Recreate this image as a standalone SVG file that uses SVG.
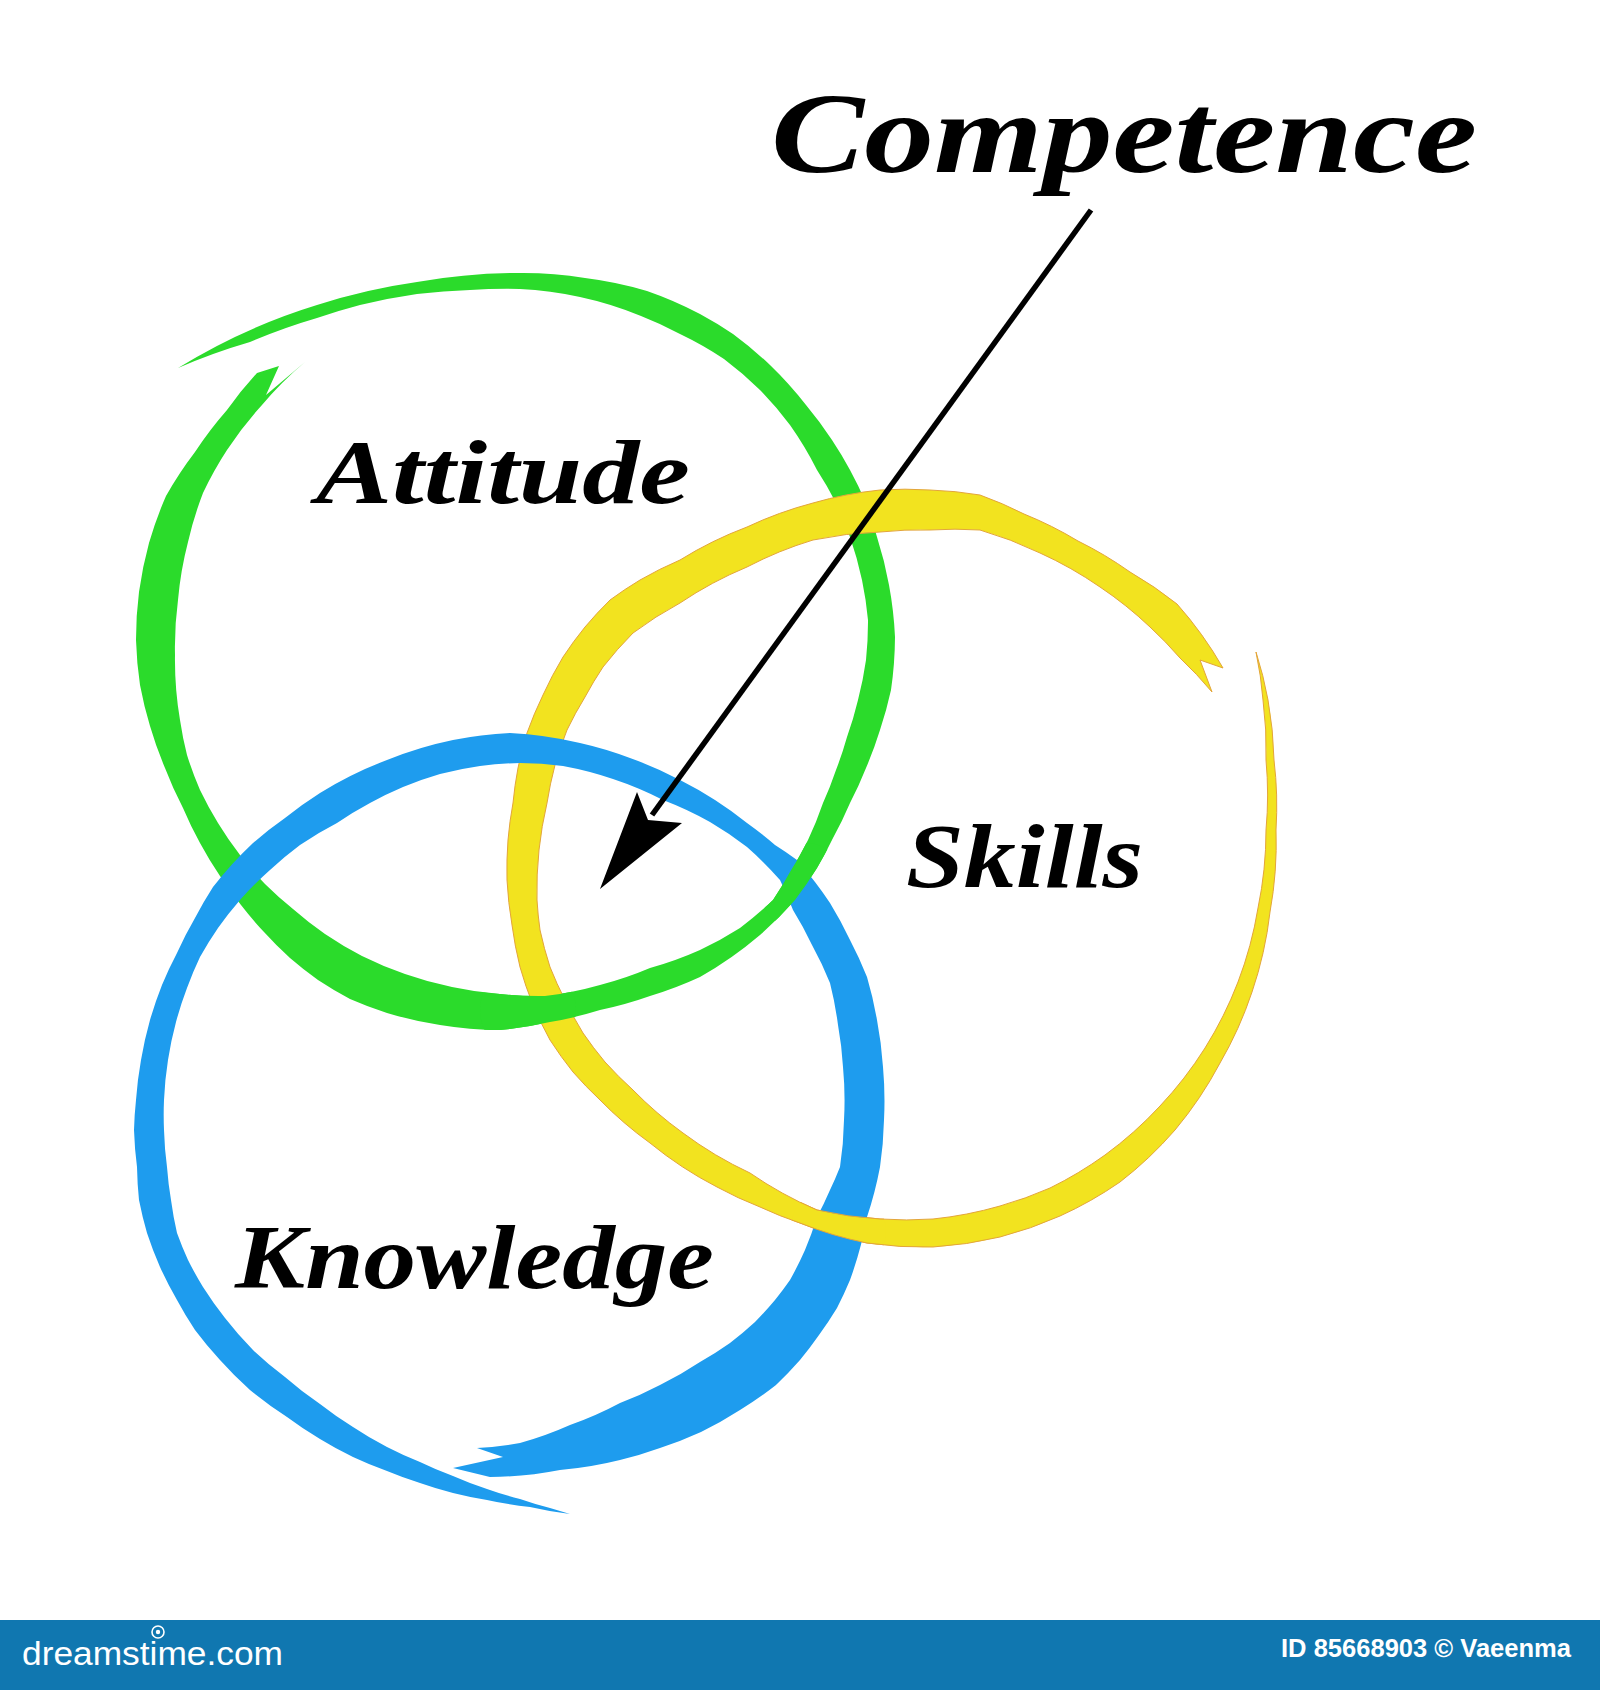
<svg xmlns="http://www.w3.org/2000/svg" xmlns:xlink="http://www.w3.org/1999/xlink" width="1600" height="1690" viewBox="0 0 1600 1690">
<style>
.ring-g{fill:#2BDB2B}
.ring-y{fill:#F2E31F;stroke:#E3A53A;stroke-width:1}
.ring-b{fill:#1E9CEE}
.label{font-family:"Liberation Serif","DejaVu Serif",serif;font-style:italic;font-weight:bold;fill:#000}
.foot{font-family:"Liberation Sans","DejaVu Sans",sans-serif;fill:#fff}
.conn{stroke:#000;stroke-width:5.5;fill:none}
</style>
<defs>
<clipPath id="cA"><circle cx="528" cy="1010" r="48"/></clipPath>
<clipPath id="cB"><circle cx="805" cy="888" r="45"/></clipPath>
<clipPath id="cC"><circle cx="838" cy="1232" r="48"/></clipPath>
</defs>
<rect width="1600" height="1690" fill="#fff"/>

<g id="attitude">
<path id="ring-green" class="ring-g" d="M178,368 A600 600 0 0 1 317,305 A600 600 0 0 1 417,282 A600 600 0 0 1 517,273
A380 380 0 0 1 585,278 A380 380 0 0 1 647,291 A380 380 0 0 1 700,314 A380 380 0 0 1 733,334 A380 380 0 0 1 770,365 A380 380 0 0 1 806,405 A380 380 0 0 1 832,440 A380 380 0 0 1 850,470 A380 380 0 0 1 866,503 A380 380 0 0 1 877,537 A380 380 0 0 1 889,585 A380 380 0 0 1 895,637 A380 380 0 0 1 891,690 A380 380 0 0 1 880,730 A380 380 0 0 1 866,768 A380 380 0 0 1 850,803 A380 380 0 0 1 833,838 A380 380 0 0 1 817,868 A380 380 0 0 1 795,900 A380 380 0 0 1 760,935 A380 380 0 0 1 700,977 A380 380 0 0 1 650,996 A380 380 0 0 1 600,1010 A380 380 0 0 1 550,1022 A380 380 0 0 1 500,1030 A380 380 0 0 1 440,1025 A380 380 0 0 1 387,1013 A380 380 0 0 1 350,999 A380 380 0 0 1 318,980 A380 380 0 0 1 290,958 A380 380 0 0 1 264,932 A380 380 0 0 1 241,905 A380 380 0 0 1 220,876 A380 380 0 0 1 200,843 A380 380 0 0 1 183,808 A380 380 0 0 1 165,768 A380 380 0 0 1 150,726 A380 380 0 0 1 140,685 A380 380 0 0 1 136,640 A380 380 0 0 1 139,592 A380 380 0 0 1 149,543 A380 380 0 0 1 166,496 A380 380 0 0 1 195,452 A380 380 0 0 1 227,410 A380 380 0 0 1 257,373
L279,366 L266,395 L305,362
A355 355 0 0 0 262,405 A355 355 0 0 0 227,450 A355 355 0 0 0 203,493 A355 355 0 0 0 188,542 A355 355 0 0 0 178,600 A355 355 0 0 0 175,655 A355 355 0 0 0 180,720 A355 355 0 0 0 187,755 A355 355 0 0 0 200,790 A355 355 0 0 0 218,823 A355 355 0 0 0 240,855 A355 355 0 0 0 265,884 A355 355 0 0 0 293,909 A355 355 0 0 0 325,934 A355 355 0 0 0 362,956 A355 355 0 0 0 405,974 A355 355 0 0 0 452,987 A355 355 0 0 0 500,994 A355 355 0 0 0 545,996 A355 355 0 0 0 600,985 A355 355 0 0 0 650,968 A355 355 0 0 0 700,950 A355 355 0 0 0 740,928 A355 355 0 0 0 773,900 A355 355 0 0 0 790,872 A355 355 0 0 0 808,840 A355 355 0 0 0 823,803 A355 355 0 0 0 836,770 A355 355 0 0 0 847,737 A355 355 0 0 0 858,700 A355 355 0 0 0 866,660 A355 355 0 0 0 868,620 A355 355 0 0 0 862,580 A355 355 0 0 0 850,537 A355 355 0 0 0 836,503 A355 355 0 0 0 817,470 A355 355 0 0 0 790,425 A355 355 0 0 0 760,390 A355 355 0 0 0 724,359 A355 355 0 0 0 680,334 A355 355 0 0 0 641,316 A355 355 0 0 0 580,297 A355 355 0 0 0 520,289
A600 600 0 0 0 470,290 A600 600 0 0 0 417,294 A600 600 0 0 0 360,305 A600 600 0 0 0 317,318 A600 600 0 0 0 250,342 A600 600 0 0 0 178,368 Z"/>
<text class="label" x="316" y="503" font-size="92" textLength="374" lengthAdjust="spacingAndGlyphs">Attitude</text>
</g>

<g id="skills">
<path id="ring-yellow" class="ring-y" d="M1223,668 A380 380 0 0 0 1177,604 A380 380 0 0 0 1130,572 A380 380 0 0 0 1078,541 A380 380 0 0 0 1024,514 A380 380 0 0 0 980,495 A380 380 0 0 0 930,490 A380 380 0 0 0 880,490 A380 380 0 0 0 813,503 A380 380 0 0 0 747,527 A380 380 0 0 0 680,560 A380 380 0 0 0 640,580 A380 380 0 0 0 610,600 A380 380 0 0 0 585,627 A380 380 0 0 0 563,657 A380 380 0 0 0 543,695 A380 380 0 0 0 527,733 A380 380 0 0 0 518,768 A380 380 0 0 0 513,803 A380 380 0 0 0 508,840 A380 380 0 0 0 507,880 A380 380 0 0 0 512,925 A380 380 0 0 0 520,967 A380 380 0 0 0 533,1005 A380 380 0 0 0 550,1040 A380 380 0 0 0 573,1072 A380 380 0 0 0 600,1100 A380 380 0 0 0 650,1143 A380 380 0 0 0 717,1187 A380 380 0 0 0 760,1207 A380 380 0 0 0 800,1223 A380 380 0 0 0 867,1243 A380 380 0 0 0 933,1247 A380 380 0 0 0 1000,1237 A380 380 0 0 0 1060,1216 A380 380 0 0 0 1120,1182 A380 380 0 0 0 1175,1130 A380 380 0 0 0 1220,1063 A380 380 0 0 0 1252,992 A380 380 0 0 0 1270,912 A380 380 0 0 0 1276,830 A380 380 0 0 0 1274,760 A380 380 0 0 0 1268,700 A380 380 0 0 0 1256,652
A380 380 0 0 1 1263,700 A380 380 0 0 1 1266,760 A380 380 0 0 1 1266,830 A380 380 0 0 1 1258,908 A380 380 0 0 1 1238,982 A380 380 0 0 1 1205,1048 A380 380 0 0 1 1160,1106 A380 380 0 0 1 1105,1155 A380 380 0 0 1 1050,1188 A380 380 0 0 1 1000,1206 A380 380 0 0 1 933,1219 A380 380 0 0 1 880,1219 A380 380 0 0 1 817,1210 A380 380 0 0 1 750,1173 A380 380 0 0 1 683,1133 A380 380 0 0 1 633,1090 A380 380 0 0 1 605,1062 A380 380 0 0 1 583,1033 A380 380 0 0 1 565,1000 A380 380 0 0 1 550,967 A380 380 0 0 1 540,930 A380 380 0 0 1 537,900 A380 380 0 0 1 539,850 A380 380 0 0 1 547,803 A380 380 0 0 1 555,765 A380 380 0 0 1 567,730 A380 380 0 0 1 585,697 A380 380 0 0 1 603,667 A380 380 0 0 1 633,633 A380 380 0 0 1 680,603 A380 380 0 0 1 747,567 A380 380 0 0 1 813,540 A380 380 0 0 1 880,532 A380 380 0 0 1 930,530 A380 380 0 0 1 980,530 A380 380 0 0 1 1040,553 A380 380 0 0 1 1100,587 A380 380 0 0 1 1150,627 A380 380 0 0 1 1180,658 A380 380 0 0 1 1212,692 L1200,660 Z"/>
<text class="label" x="906" y="887" font-size="92" textLength="237" lengthAdjust="spacingAndGlyphs">Skills</text>
</g>

<g id="knowledge">
<path id="ring-blue" class="ring-b" d="M570,1514 A380 380 0 0 1 530,1507 A380 380 0 0 1 487,1500 A380 380 0 0 1 453,1493 A380 380 0 0 1 420,1483 A380 380 0 0 1 387,1471 A380 380 0 0 1 353,1457 A380 380 0 0 1 320,1439 A380 380 0 0 1 287,1417 A380 380 0 0 1 250,1390 A380 380 0 0 1 220,1360 A380 380 0 0 1 195,1330 A380 380 0 0 1 177,1300 A380 380 0 0 1 160,1267 A380 380 0 0 1 147,1233 A380 380 0 0 1 139,1200 A380 380 0 0 1 137,1167 A380 380 0 0 1 134,1130 A380 380 0 0 1 136,1100 A380 380 0 0 1 141,1060 A380 380 0 0 1 150,1020 A380 380 0 0 1 162,985 A380 380 0 0 1 177,953 A380 380 0 0 1 195,918 A380 380 0 0 1 213,887 A380 380 0 0 1 253,843 A380 380 0 0 1 285,818 A380 380 0 0 1 320,793 A380 380 0 0 1 387,760 A380 380 0 0 1 453,740 A380 380 0 0 1 510,733 A380 380 0 0 1 580,743 A380 380 0 0 1 630,758 A380 380 0 0 1 680,780 A380 380 0 0 1 715,800 A380 380 0 0 1 747,823 A380 380 0 0 1 775,845 A380 380 0 0 1 797,860 A380 380 0 0 1 815,882 A380 380 0 0 1 830,903 A380 380 0 0 1 850,940 A380 380 0 0 1 867,977 A380 380 0 0 1 877,1020 A380 380 0 0 1 883,1067 A380 380 0 0 1 884,1120 A380 380 0 0 1 880,1167 A380 380 0 0 1 867,1217 A380 380 0 0 1 850,1280 A380 380 0 0 1 837,1308 A380 380 0 0 1 819,1335 A380 380 0 0 1 800,1360 A380 380 0 0 1 776,1385 A380 380 0 0 1 740,1410 A380 380 0 0 1 701,1432 A380 380 0 0 1 660,1448 A380 380 0 0 1 620,1460 A380 380 0 0 1 560,1470 A380 380 0 0 1 490,1477
L453,1468 L503,1457 L477,1448
A355 355 0 0 0 520,1443 A355 355 0 0 0 570,1425 A355 355 0 0 0 620,1403 A355 355 0 0 0 660,1385 A355 355 0 0 0 700,1362 A355 355 0 0 0 730,1343 A355 355 0 0 0 755,1322 A355 355 0 0 0 775,1300 A355 355 0 0 0 790,1280 A355 355 0 0 0 805,1250 A355 355 0 0 0 817,1217 A355 355 0 0 0 830,1190 A355 355 0 0 0 840,1167 A355 355 0 0 0 844,1120 A355 355 0 0 0 843,1067 A355 355 0 0 0 838,1025 A355 355 0 0 0 830,983 A355 355 0 0 0 812,945 A355 355 0 0 0 793,910 A355 355 0 0 0 780,880 A355 355 0 0 0 747,847 A355 355 0 0 0 710,822 A355 355 0 0 0 663,800 A355 355 0 0 0 613,779 A355 355 0 0 0 563,766 A355 355 0 0 0 520,763 A355 355 0 0 0 480,766 A355 355 0 0 0 440,774 A355 355 0 0 0 403,787 A355 355 0 0 0 370,803 A355 355 0 0 0 337,823 A355 355 0 0 0 300,845 A355 355 0 0 0 270,870 A355 355 0 0 0 240,900 A355 355 0 0 0 218,928 A355 355 0 0 0 200,957 A355 355 0 0 0 187,988 A355 355 0 0 0 176,1022 A355 355 0 0 0 168,1060 A355 355 0 0 0 164,1100 A355 355 0 0 0 164,1130 A355 355 0 0 0 167,1167 A355 355 0 0 0 171,1200 A355 355 0 0 0 177,1233 A355 355 0 0 0 188,1260 A355 355 0 0 0 203,1287 A355 355 0 0 0 225,1318 A355 355 0 0 0 253,1350 A355 355 0 0 0 285,1377 A355 355 0 0 0 320,1404 A355 355 0 0 0 353,1427 A355 355 0 0 0 387,1447 A355 355 0 0 0 420,1462 A355 355 0 0 0 453,1476 A355 355 0 0 0 487,1489 A355 355 0 0 0 520,1499 A355 355 0 0 0 550,1508 Z"/>
<text class="label" x="235" y="1288" font-size="90" textLength="479" lengthAdjust="spacingAndGlyphs">Knowledge</text>
</g>

<g id="weave">
<use xlink:href="#ring-green" href="#ring-green" clip-path="url(#cA)"/>
<use xlink:href="#ring-green" href="#ring-green" clip-path="url(#cB)"/>
<use xlink:href="#ring-yellow" href="#ring-yellow" clip-path="url(#cC)"/>
</g>

<g id="competence">
<text class="label" x="771" y="172" font-size="115" textLength="706" lengthAdjust="spacingAndGlyphs">Competence</text>
</g>

<g id="connectors">
<line class="conn" x1="1091" y1="210" x2="652" y2="815"/>
<polygon points="600,889 637,792 648,820 682,823" fill="#000"/>
</g>

<g id="footer">
<rect x="0" y="1620" width="1600" height="70" fill="#1077B0"/>
<text class="foot" x="22" y="1665" font-size="34" textLength="261" lengthAdjust="spacingAndGlyphs">dreamstime.com</text>
<circle cx="158" cy="1632" r="6" fill="none" stroke="#fff" stroke-width="1.6"/>
<circle cx="158" cy="1632" r="2.2" fill="#fff"/>
<text class="foot" x="1281" y="1657" font-size="26" font-weight="bold" textLength="290" lengthAdjust="spacingAndGlyphs">ID 85668903 © Vaeenma</text>
</g>
</svg>
